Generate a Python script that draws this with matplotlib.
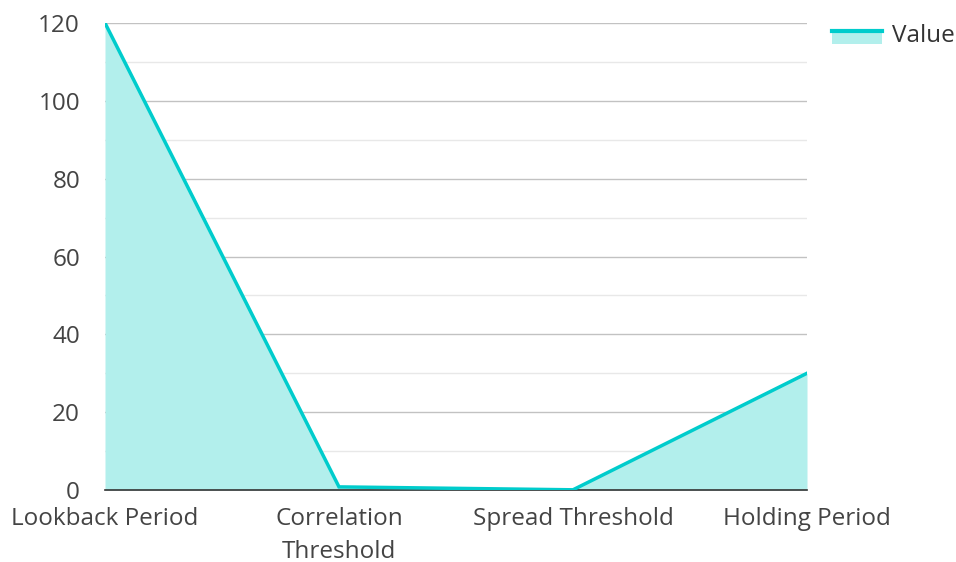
import matplotlib
matplotlib.use("Agg")
import matplotlib.pyplot as plt
from matplotlib.ticker import MultipleLocator
from matplotlib.lines import Line2D
from matplotlib.patches import Rectangle
from matplotlib.legend_handler import HandlerBase

categories = ["Lookback Period", "Correlation\nThreshold", "Spread Threshold", "Holding Period"]
values = [120, 0.8, 0.05, 30]
y_ticks = [0, 20, 40, 60, 80, 100, 120]

plt.rcParams['font.family'] = ['Open Sans', 'DejaVu Sans']

fig = plt.figure(figsize=(9.56, 5.62), dpi=100)
ax = fig.add_axes([105/956, 1-490/562, (807-105)/956, (490-23)/562])

x = list(range(len(categories)))
line_c = '#00cccc'
fill_c = '#b2efec'
ax.fill_between(x, values, 0, color=fill_c, linewidth=0, zorder=1)
ax.plot(x, values, color=line_c, linewidth=2.5, zorder=3, solid_joinstyle='miter')

ax.set_xlim(0, len(categories)-1)
ax.set_ylim(0, 120)
ax.set_yticks(y_ticks)
ax.yaxis.set_minor_locator(MultipleLocator(10))
ax.grid(which='major', axis='y', color='#c2c2c2', linewidth=1, zorder=0)
ax.grid(which='minor', axis='y', color='#e8e8e8', linewidth=1, zorder=0)
ax.set_axisbelow(True)
for s in ['left', 'right', 'top']:
    ax.spines[s].set_visible(False)
ax.spines['bottom'].set_color('#333333')
ax.spines['bottom'].set_linewidth(1.2)
ax.set_xticks(x)
ax.set_xticklabels(categories, linespacing=1.5)
ax.tick_params(axis='both', which='both', length=0, labelsize=17.5, colors='#444444')
ax.tick_params(axis='y', pad=18)
ax.tick_params(axis='x', pad=12)


class AreaHandler(HandlerBase):
    def create_artists(self, legend, orig_handle, xdescent, ydescent, width, height, fontsize, trans):
        yl = -ydescent + height * 0.62
        r = Rectangle((-xdescent, yl - 9), width, 9,
                      facecolor=fill_c, edgecolor='none', transform=trans)
        l = Line2D([-xdescent, -xdescent + width], [yl, yl],
                   color=line_c, linewidth=3, transform=trans)
        return [r, l]


leg = fig.legend(['area'], ['Value'], loc='upper left', bbox_to_anchor=(832/956, 1-24/562),
                 frameon=False, fontsize=17.5, handlelength=2.06, handletextpad=0.42,
                 handler_map={str: AreaHandler()}, borderaxespad=0, borderpad=0)
for t in leg.get_texts():
    t.set_color('#333333')

fig.savefig('out.png', dpi=100)
